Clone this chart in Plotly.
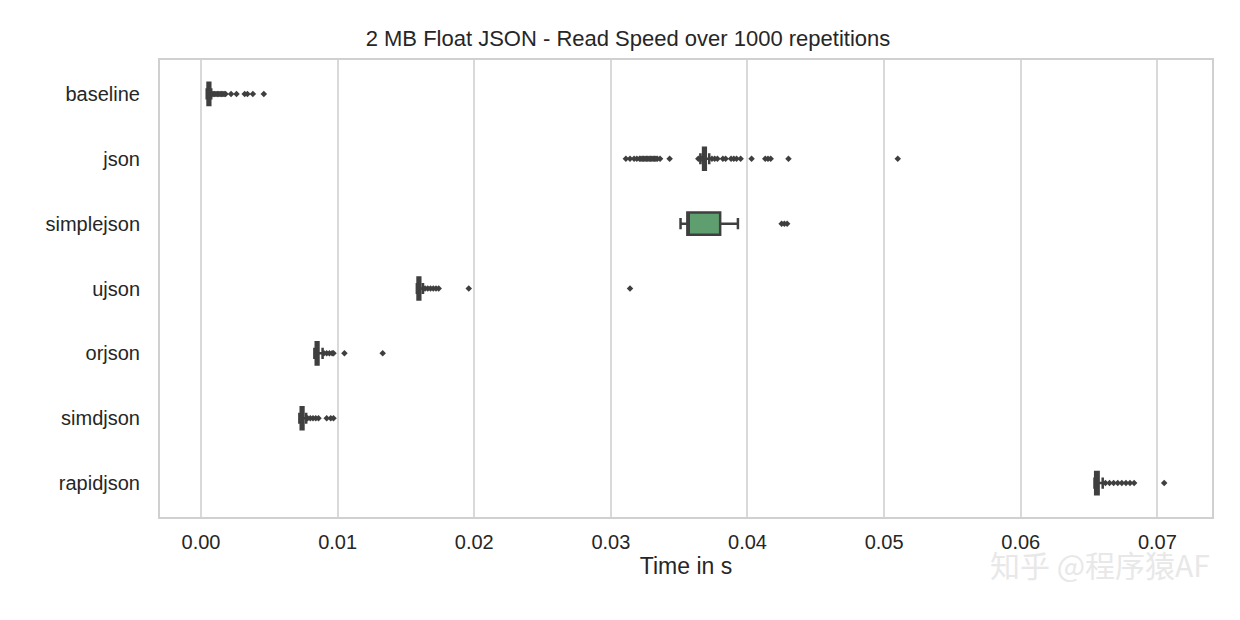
import plotly.graph_objects as go

libs = ['baseline', 'json', 'simplejson', 'ujson', 'orjson', 'simdjson', 'rapidjson']
colors = ['#5570a0', '#c98a5c', '#5f9e6e', '#b5575a', '#7d72a6', '#8a765f', '#c98fb8']

# box statistics (seconds)
q1 = [0.00048, 0.03675, 0.0356, 0.01585, 0.0084, 0.0073, 0.06545]
med = [0.00058, 0.0368, 0.0357, 0.0159, 0.0085, 0.0074, 0.0656]
q3 = [0.00068, 0.03695, 0.0380, 0.01605, 0.0086, 0.0075, 0.0657]
lo = [0.00042, 0.03655, 0.0351, 0.0158, 0.0083, 0.0072, 0.0654]
hi = [0.00075, 0.0372, 0.0393, 0.01625, 0.0089, 0.0077, 0.0660]

outliers = {
    'baseline': [0.0008, 0.0009, 0.001, 0.0011, 0.0012, 0.0013, 0.0014, 0.0015, 0.0016, 0.0017,
                 0.0018, 0.0022, 0.0026, 0.0032, 0.0034, 0.0038, 0.0046],
    'json': [0.0311, 0.0314, 0.0317, 0.0319, 0.0321, 0.0322, 0.0323, 0.0324, 0.0325, 0.0326,
             0.0327, 0.0328, 0.0329, 0.033, 0.0331, 0.0332, 0.0333, 0.0334, 0.0336, 0.0343,
             0.0364, 0.0366, 0.0374, 0.0376, 0.0378, 0.0382, 0.0384, 0.0388, 0.039, 0.0392,
             0.0395, 0.0403, 0.0413, 0.0415, 0.0417, 0.0430, 0.0510],
    'simplejson': [0.0425, 0.0427, 0.0429],
    'ujson': [0.0164, 0.0166, 0.0168, 0.017, 0.0172, 0.0174, 0.0196, 0.0314],
    'orjson': [0.009, 0.0092, 0.0094, 0.0096, 0.0097, 0.0105, 0.0133],
    'simdjson': [0.0078, 0.008, 0.0082, 0.0084, 0.0086, 0.0092, 0.0095, 0.0097],
    'rapidjson': [0.0662, 0.0665, 0.0668, 0.0671, 0.0674, 0.0677, 0.068, 0.0683, 0.0705],
}

edge = '#3f3f3f'
fig = go.Figure()

for i, name in enumerate(libs):
    fig.add_trace(go.Box(y=[name], q1=[q1[i]], median=[med[i]], q3=[q3[i]],
                         lowerfence=[lo[i]], upperfence=[hi[i]], orientation='h',
                         fillcolor=colors[i], line=dict(color=edge, width=2.5),
                         width=0.34, whiskerwidth=0.5, boxpoints=False, showlegend=False))
    pts = outliers[name]
    fig.add_trace(go.Scatter(x=pts, y=[name] * len(pts), mode='markers',
                             marker=dict(symbol='diamond', size=5, color=edge),
                             showlegend=False))

fig.add_annotation(text='知乎 @程序猿AF', xref='paper', yref='paper', x=1.0, y=-0.155,
                   xanchor='right', showarrow=False,
                   font=dict(size=30, color='#e8e8e8', family='Noto Sans CJK SC'))

fig.update_layout(
    width=1240, height=620,
    template='simple_white',
    paper_bgcolor='white', plot_bgcolor='white',
    margin=dict(l=152, r=36, t=52, b=111),
    font=dict(family='Liberation Sans, Arial', size=20, color='#262626'),
    title=dict(text='2 MB Float JSON - Read Speed over 1000 repetitions', x=0.5, y=0.963,
               xanchor='center', yanchor='top', font=dict(size=22)),
    xaxis=dict(title=dict(text='Time in s', standoff=4, font=dict(size=23)),
               range=[-0.003, 0.074], automargin=False,
               tickvals=[0, 0.01, 0.02, 0.03, 0.04, 0.05, 0.06, 0.07],
               ticktext=['0.00', '0.01', '0.02', '0.03', '0.04', '0.05', '0.06', '0.07'],
               showgrid=True, gridcolor='#d9d9d9', gridwidth=2, zeroline=False,
               showline=True, linecolor='#d0d0d0', linewidth=2, mirror=True,
               ticks='outside', ticklen=6, tickcolor='rgba(0,0,0,0)'),
    yaxis=dict(categoryorder='array', categoryarray=libs, autorange='reversed',
               automargin=False, showgrid=False, zeroline=False,
               showline=True, linecolor='#d0d0d0', linewidth=2, mirror=True,
               ticks='outside', ticklen=14, tickcolor='rgba(0,0,0,0)'),
)

fig.write_html("out.html")
